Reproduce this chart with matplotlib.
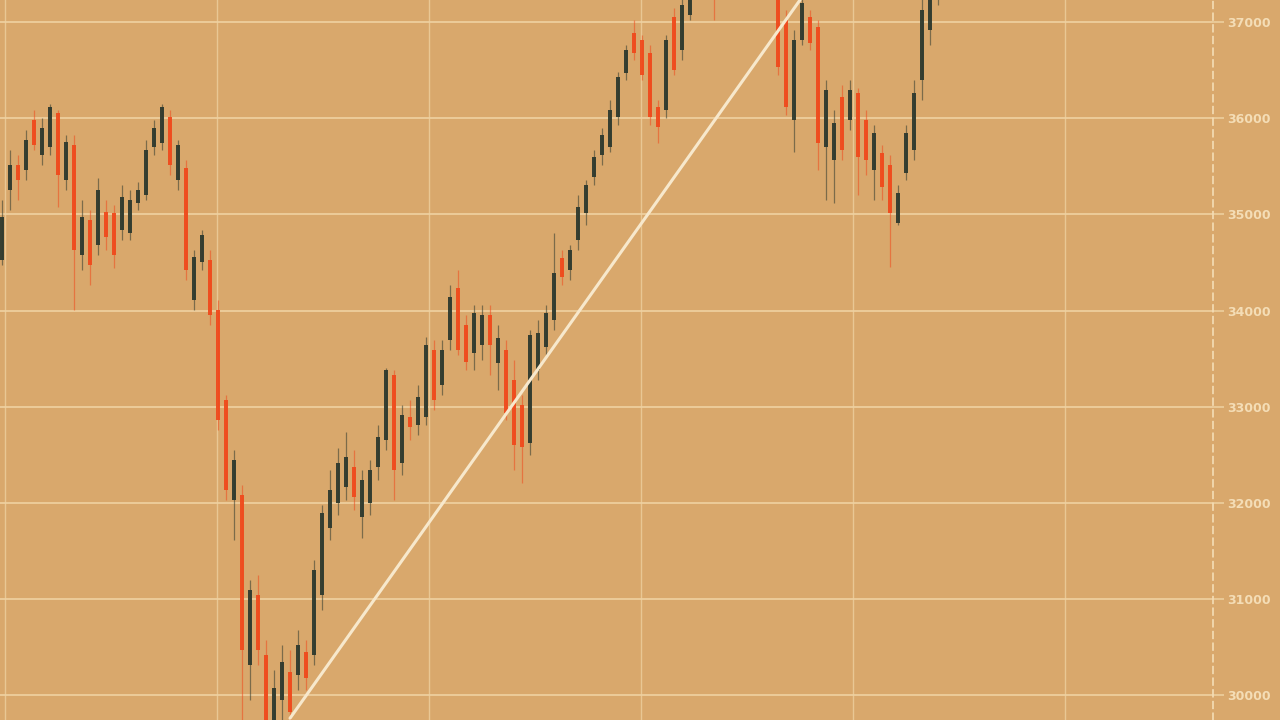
import numpy as np
import matplotlib
matplotlib.use("Agg")
import matplotlib.pyplot as plt

# ---- Dados (OHLC) ----
opens = [34525, 35255, 35515, 35460, 35980, 35620, 35700, 36055, 35360, 35720,
         34580, 34940, 34680, 35025, 35015, 34840, 34805, 35120, 35200, 35700,
         35745, 36015, 35360, 35485, 34110, 34505, 34525, 34005, 33070, 32030,
         32080, 30315, 31040, 30420, 29690, 29950, 30240, 30210, 30450, 30420,
         31040, 31740, 32000, 32165, 32375, 31855, 32000, 32375, 32655, 33330,
         32415, 32895, 32810, 32895, 33590, 33225, 33695, 34235, 33850, 33560,
         33640, 33955, 33455, 33590, 33280, 33020, 32625, 33380, 33620, 33900,
         34545, 34420, 34735, 35015, 35390, 35620, 35700, 36015, 36470, 36885,
         36815, 36680, 36115, 36085, 37055, 36710, 37075, 37385, 37960, 37645,
         37385, 37750, 38060, 37855, 38165, 37750, 37490, 37335, 37020, 35980,
         36815, 37055, 36950, 35700, 35565, 36220, 35980, 36265, 35980, 35460,
         35640, 35515, 34910, 35430, 35670, 36400, 36920, 37280]
highs = [35150, 35670, 35620, 35880, 36085, 36005, 36150, 36085, 35825, 35825,
         35150, 35045, 35380, 35150, 35100, 35305, 35255, 35335, 35775, 35980,
         36150, 36085, 35775, 35565, 34630, 34840, 34630, 34110, 33120, 32550,
         32185, 31200, 31250, 30575, 30260, 30520, 30470, 30680, 30575, 31405,
         31980, 32340, 32570, 32735, 32550, 32340, 32445, 32810, 33405, 33380,
         33020, 33070, 33225, 33725, 33695, 33695, 34265, 34420, 33955, 34060,
         34060, 34060, 33850, 33695, 33485, 33120, 33800, 33900, 34060, 34805,
         34630, 34680, 35200, 35360, 35670, 35900, 36190, 36480, 36760, 37020,
         36865, 36760, 36190, 36865, 37145, 37440, 37645, 38060, 38165, 37855,
         37960, 38270, 38270, 38375, 38320, 37960, 37645, 37440, 37125, 36920,
         37335, 37125, 37020, 36400, 36085, 36345, 36400, 36315, 36085, 35930,
         35720, 35620, 35305, 35930, 36400, 37335, 37490, 37855]
lows = [34475, 35045, 35150, 35360, 35670, 35515, 35620, 35075, 35255, 34005,
        34420, 34265, 34580, 34630, 34445, 34735, 34735, 35045, 35150, 35620,
        35670, 35410, 35255, 34320, 34005, 34420, 33850, 32760, 32030, 31615,
        29585, 29950, 30315, 29535, 29535, 29740, 29690, 30055, 30055, 30315,
        30885, 31615, 31875, 32030, 31925, 31635, 31875, 32240, 32550, 32030,
        32290, 32655, 32705, 32810, 32965, 33120, 33590, 33540, 33380, 33380,
        33485, 33330, 33175, 32860, 32340, 32205, 32500, 33280, 33540, 33800,
        34265, 34320, 34630, 34890, 35305, 35515, 35650, 35930, 36400, 36605,
        36400, 35930, 35745, 36005, 36450, 36605, 37020, 37280, 37540, 37020,
        37315, 37645, 37700, 37750, 37645, 37385, 37250, 36450, 36035, 35650,
        36760, 36710, 35460, 35150, 35120, 35565, 35880, 35200, 35410, 35150,
        35150, 34455, 34890, 35360, 35565, 36190, 36760, 37180]
closes = [34975, 35515, 35360, 35775, 35720, 35900, 36115, 35410, 35755, 34630,
          34975, 34475, 35255, 34765, 34580, 35180, 35150, 35255, 35670, 35900,
          36115, 35515, 35720, 34420, 34555, 34785, 33955, 32860, 32135, 32445,
          30470, 31095, 30470, 29740, 30075, 30345, 29825, 30520, 30180, 31300,
          31895, 32135, 32415, 32475, 32060, 32240, 32340, 32685, 33380, 32340,
          32915, 32790, 33100, 33640, 33070, 33590, 34140, 33590, 33465, 33975,
          33955, 33640, 33715, 32935, 32600, 32580, 33745, 33765, 33975, 34390,
          34350, 34630, 35075, 35305, 35595, 35825, 36085, 36430, 36710, 36680,
          36450, 36015, 35910, 36815, 36500, 37180, 37440, 37855, 37645, 37335,
          37750, 38060, 37855, 38165, 37750, 37490, 37280, 36535, 36115, 36815,
          37200, 36785, 35745, 36295, 35950, 35670, 36295, 35595, 35565, 35845,
          35285, 35015, 35225, 35845, 36265, 37125, 37335, 37645]

niveis = [30000, 31000, 32000, 33000, 34000, 35000, 36000, 37000]
rotulos = ["30000", "31000", "32000", "33000", "34000", "35000", "36000", "37000"]

# linha de tendencia (inicio e fim)
tendencia_x = [36, 99.75]
tendencia_y = [29760, 37230]

# ---- Cores ----
fundo = "#D9A86C"
grade = "#EFD2A2"
cor_alta = "#2F3A2E"
cor_baixa = "#F04A1C"
texto = "#F4DDB6"

o = np.array(opens)
h = np.array(highs)
l = np.array(lows)
c = np.array(closes)
x = np.arange(len(o))
cores = np.where(c >= o, cor_alta, cor_baixa)

# ---- Grafico ----
fig = plt.figure(figsize=(12.8, 7.2), dpi=100)
fig.patch.set_facecolor(fundo)
ax = fig.add_axes([0, 0, 1213 / 1280, 1])
ax.set_facecolor(fundo)

for yv in niveis:
    ax.axhline(yv, color=grade, lw=1.2, zorder=0)
for xv in [0.375, 26.875, 53.375, 79.875, 106.375, 132.875]:
    ax.axvline(xv, color=grade, lw=1.0, alpha=0.75, zorder=0)

ax.vlines(x, l, h, colors=cores, lw=0.9, alpha=0.55, zorder=2)
ax.bar(x, np.maximum(np.abs(c - o), 15), bottom=np.minimum(o, c),
       width=0.42, color=cores, alpha=0.95, zorder=3)

ax.plot(tendencia_x, tendencia_y, color="#F7E8CC", lw=2.2, solid_capstyle="round", zorder=4)

ax.set_xlim(-0.25, 151.375)
ax.set_ylim(29742, 37230)

for s in ["top", "left", "bottom"]:
    ax.spines[s].set_visible(False)
ax.spines["right"].set_color(texto)
ax.spines["right"].set_linestyle((0, (4, 3)))
ax.spines["right"].set_linewidth(1.2)

ax.set_xticks([])
ax.yaxis.tick_right()
ax.set_yticks(niveis)
ax.set_yticklabels(rotulos)
ax.tick_params(axis="y", colors=grade, length=8, width=1.1, pad=2,
               labelsize=9, labelcolor=texto)
for t in ax.get_yticklabels():
    t.set_fontweight("bold")

plt.savefig("out.png", dpi=100, facecolor=fundo)
